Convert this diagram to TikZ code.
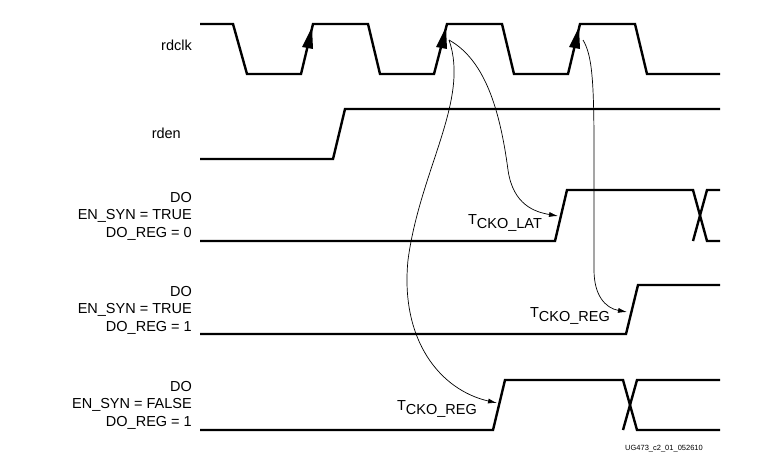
\documentclass[tikz,border=0pt]{standalone}
\usepackage{fontspec}
\setmainfont{Liberation Sans}
\usetikzlibrary{arrows.meta}
\begin{document}
\begin{tikzpicture}[x=1pt,y=-1pt,
  sig/.style={line width=2.4pt,line join=miter},
  arr/.style={line width=0.7pt,-{Latex[length=9pt,width=5pt]}},
  head/.style={fill=black},
  lbl/.style={font=\fontsize{14.5}{17.5}\selectfont,anchor=east,align=right,inner sep=0pt},
  tl/.style={font=\fontsize{14.5}{17}\selectfont,inner sep=0pt}]
\useasboundingbox (0,0) rectangle (767,463);
% rdclk
\draw[sig] (200,24) -- (233,24) -- (247,74) -- (301,74) -- (313,24) -- (368,24) -- (380,74) -- (434,74) -- (447,24) -- (502,24) -- (514,74) -- (568,74) -- (580,24) -- (635,24) -- (647,74) -- (720,74);
% rden
\draw[sig] (200,159) -- (333,159) -- (345,109) -- (720,109);
% DO1
\draw[sig] (200,241) -- (555,241) -- (567,190) -- (693,190) -- (707,241) -- (720,241);
\draw[sig] (693,241) -- (707,190) -- (720,190);
% DO2
\draw[sig] (200,334) -- (626,334) -- (638,285) -- (720,285);
% DO3
\draw[sig] (200,430) -- (493,430) -- (505,380) -- (623,380) -- (637,430) -- (720,430);
\draw[sig] (623,430) -- (637,380) -- (720,380);
% labels
\node[lbl] (l1) at (192,45) {rdclk};
\node[lbl] (l2) at (181,133) {rden};
\node[lbl] (l3) at (192,216) {DO\\EN\_SYN = TRUE\\DO\_REG = 0};
\node[lbl] (l4) at (192,310) {DO\\EN\_SYN = TRUE\\DO\_REG = 1};
\node[lbl] (l5) at (192,405) {DO\\EN\_SYN = FALSE\\DO\_REG = 1};
\node[tl] (t1) at (505,223) {T\raisebox{-4pt}{CKO\_LAT}};
\node[tl] (t2) at (570,316) {T\raisebox{-4pt}{CKO\_REG}};
\node[tl] (t3) at (437,409) {T\raisebox{-4pt}{CKO\_REG}};
\node[font=\fontsize{7.5}{8}\selectfont,inner sep=0pt] (id) at (664,449) {UG473\_c2\_01\_052610};
% clock edge arrowheads
\fill[head] (312,27) -- (302,47) -- (313,49) -- cycle;
\fill[head] (446,27) -- (436,47) -- (447,49) -- cycle;
\fill[head] (579,27) -- (569,47) -- (580,49) -- cycle;
% timing arrows
\coordinate (s2) at (449,40);
\coordinate (s3) at (583,40);
\draw[arr] (s2) .. controls (485,60) and (500,110) .. (508,170) .. controls (513,205) and (535,212) .. (558,216);
\draw[arr] (s2) .. controls (470,100) and (420,170) .. (408,260) .. controls (400,340) and (440,390) .. (497,403);
\draw[arr] (s3) .. controls (592,55) and (594,80) .. (594,150) -- (594,270) .. controls (594,295) and (605,308) .. (627,312);
\end{tikzpicture}
\end{document}
